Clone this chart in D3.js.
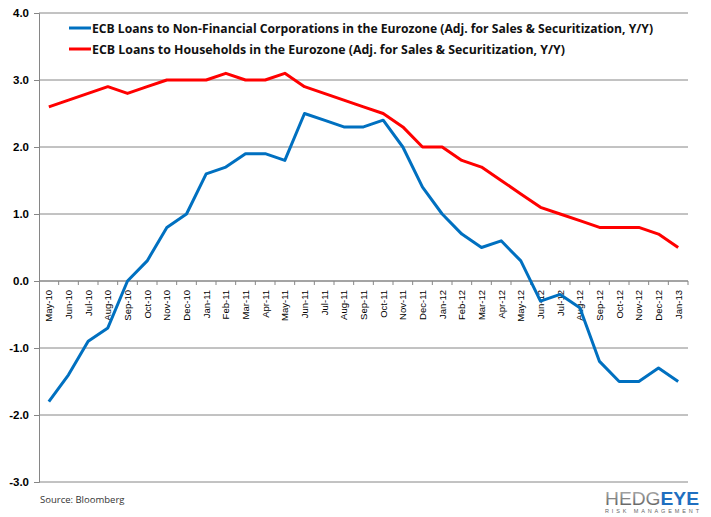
<!DOCTYPE html>
<html>
<head>
<meta charset="utf-8">
<script src="https://cdn.jsdelivr.net/npm/d3@7"></script>
<style>
  body { margin: 0; background: #fff; }
  svg { display: block; }
  .axis text { font-family: "Liberation Sans", Arial, sans-serif; }
</style>
</head>
<body>
<svg width="711" height="517"></svg>
<script>
// months on the x axis
var months = ["May-10","Jun-10","Jul-10","Aug-10","Sep-10","Oct-10","Nov-10","Dec-10",
  "Jan-11","Feb-11","Mar-11","Apr-11","May-11","Jun-11","Jul-11","Aug-11","Sep-11","Oct-11","Nov-11","Dec-11",
  "Jan-12","Feb-12","Mar-12","Apr-12","May-12","Jun-12","Jul-12","Aug-12","Sep-12","Oct-12","Nov-12","Dec-12",
  "Jan-13"];

// loans to non-financial corporations, Y/Y %
var corporates = [-1.8,-1.4,-0.9,-0.7,0.0,0.3,0.8,1.0,
  1.6,1.7,1.9,1.9,1.8,2.5,2.4,2.3,2.3,2.4,2.0,1.4,
  1.0,0.7,0.5,0.6,0.3,-0.3,-0.2,-0.4,-1.2,-1.5,-1.5,-1.3,
  -1.5];

// loans to households, Y/Y %
var households = [2.6,2.7,2.8,2.9,2.8,2.9,3.0,3.0,
  3.0,3.1,3.0,3.0,3.1,2.9,2.8,2.7,2.6,2.5,2.3,2.0,
  2.0,1.8,1.7,1.5,1.3,1.1,1.0,0.9,0.8,0.8,0.8,0.7,
  0.5];

var yTicks = [4,3,2,1,0,-1,-2,-3];

var seriesNames = [
  "ECB Loans to Non-Financial Corporations in the Eurozone (Adj. for Sales & Securitization, Y/Y)",
  "ECB Loans to Households in the Eurozone (Adj. for Sales & Securitization, Y/Y)"
];
var seriesColors = ["#0070c0", "#ff0000"];

var margin = { top: 13, right: 23, bottom: 35, left: 39 };
var width = 711 - margin.left - margin.right;
var height = 517 - margin.top - margin.bottom;

var svg = d3.select("svg");
var g = svg.append("g")
  .attr("transform", "translate(" + margin.left + "," + margin.top + ")");

var x = d3.scaleBand().domain(months).range([0, width]);
var y = d3.scaleLinear().domain([-3, 4]).range([height, 0]);

// horizontal grid
g.append("g")
  .selectAll("line")
  .data(yTicks)
  .enter().append("line")
  .attr("x1", 0).attr("x2", width)
  .attr("y1", function (d) { return y(d); })
  .attr("y2", function (d) { return y(d); })
  .attr("stroke", "#868686")
  .attr("stroke-width", 1);

// y axis
var yAxis = g.append("g")
  .attr("class", "axis")
  .call(d3.axisLeft(y).tickValues(yTicks).tickFormat(d3.format(".1f")).tickSize(5).tickPadding(5));
yAxis.select(".domain").attr("stroke", "#868686");
yAxis.selectAll(".tick line").attr("stroke", "#868686");
yAxis.selectAll("text")
  .attr("font-size", 11.5)
  .attr("font-weight", "bold")
  .attr("fill", "#000")
  .text(function (d) { return d < 0 ? "-" + d3.format(".1f")(-d) : d3.format(".1f")(d); });

// x axis at zero, ticks between categories
var xAxis = g.append("g")
  .attr("class", "axis")
  .attr("transform", "translate(0," + y(0) + ")");
xAxis.append("line")
  .attr("x1", 0).attr("x2", width)
  .attr("stroke", "#868686");
xAxis.selectAll(".xt")
  .data(months)
  .enter().append("line")
  .attr("class", "xt")
  .attr("x1", function (d) { return x(d) + x.bandwidth(); })
  .attr("x2", function (d) { return x(d) + x.bandwidth(); })
  .attr("y1", 0).attr("y2", 4)
  .attr("stroke", "#868686");
xAxis.selectAll("text")
  .data(months)
  .enter().append("text")
  .attr("transform", function (d) {
    return "translate(" + (x(d) + x.bandwidth() / 2 + 3.5) + ",9) rotate(-90)";
  })
  .attr("text-anchor", "end")
  .attr("font-size", 9.5)
  .attr("fill", "#000")
  .text(function (d) { return d; });

// lines
var line = d3.line()
  .x(function (d, i) { return x(months[i]) + x.bandwidth() / 2; })
  .y(function (d) { return y(d); });

[corporates, households].forEach(function (s, i) {
  g.append("path")
    .datum(s)
    .attr("fill", "none")
    .attr("stroke", seriesColors[i])
    .attr("stroke-width", 3)
    .attr("stroke-linejoin", "round")
    .attr("d", line);
});

// legend
var legend = svg.append("g").attr("transform", "translate(69,28)");
seriesNames.forEach(function (name, i) {
  var row = legend.append("g").attr("transform", "translate(0," + (i * 21) + ")");
  row.append("line")
    .attr("x1", 0).attr("x2", 22)
    .attr("stroke", seriesColors[i])
    .attr("stroke-width", 3);
  row.append("text")
    .attr("x", 23).attr("y", 4.5)
    .attr("font-family", "'Open Sans', 'Liberation Sans', sans-serif")
    .attr("font-weight", "bold")
    .attr("font-size", 12)
    .attr("fill", "#111")
    .attr("textLength", i === 0 ? 561 : 473)
    .attr("lengthAdjust", "spacingAndGlyphs")
    .text(name);
});

// source note
svg.append("text")
  .attr("x", 40).attr("y", 503)
  .attr("font-family", "'Open Sans', 'Liberation Sans', sans-serif")
  .attr("font-size", 9.5)
  .attr("fill", "#333")
  .text("Source: Bloomberg");

// logo
var grad = svg.append("defs").append("linearGradient")
  .attr("id", "hg").attr("x1", 0).attr("y1", 0).attr("x2", 0).attr("y2", 1);
grad.append("stop").attr("offset", "0%").attr("stop-color", "#b5b5b5");
grad.append("stop").attr("offset", "100%").attr("stop-color", "#555");
var logo = svg.append("text")
  .attr("x", 605).attr("y", 505)
  .attr("font-family", "'Liberation Sans', Arial, sans-serif")
  .attr("font-size", 19)
  .attr("textLength", 94)
  .attr("lengthAdjust", "spacingAndGlyphs");
logo.append("tspan").attr("fill", "url(#hg)").text("HEDG");
logo.append("tspan").attr("fill", "#1f6fc0").attr("font-weight", "bold").text("EYE");
svg.append("text")
  .attr("x", 605).attr("y", 513)
  .attr("font-family", "'Liberation Sans', Arial, sans-serif")
  .attr("font-size", 5.5)
  .attr("fill", "#666")
  .attr("textLength", 94)
  .attr("lengthAdjust", "spacing")
  .text("RISK MANAGEMENT");
</script>
</body>
</html>
